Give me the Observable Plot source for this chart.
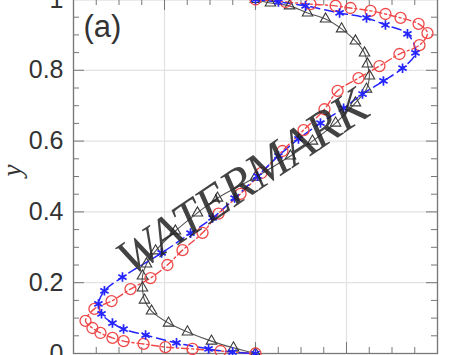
<!DOCTYPE html>
<html><head><meta charset="utf-8">
<script src="https://cdn.jsdelivr.net/npm/d3@7"></script>
<script src="https://cdn.jsdelivr.net/npm/@observablehq/plot@0.6"></script>
<style>
html,body{margin:0;padding:0;background:#fff;overflow:hidden;}
#chart{width:474px;height:355px;overflow:hidden;position:relative;}
#chart svg{position:absolute;left:0;top:-21.5px;}
</style></head><body><div id="chart"></div>
<script>
// Series (x: horizontal value, y: wall-normal coordinate)
const blackX = [0, 0.082, 0.187, 0.286, 0.385, 0.473, 0.549, 0.599, 0.615, 0.626, 0.610, 0.549, 0.440, 0.313, 0.192, 0, -0.209, -0.319, -0.440, -0.549, -0.599, -0.621, -0.621, -0.610, -0.571, -0.478, -0.374, -0.242, -0.121, 0];
const blackY = [1, 0.990, 0.982, 0.962, 0.945, 0.917, 0.883, 0.849, 0.818, 0.784, 0.747, 0.708, 0.651, 0.600, 0.558, 0.498, 0.439, 0.397, 0.346, 0.290, 0.253, 0.219, 0.185, 0.151, 0.120, 0.086, 0.061, 0.035, 0.016, 0];

const blueX = [0, 0.126, 0.275, 0.462, 0.610, 0.714, 0.835, 0.879, 0.808, 0.703, 0.588, 0.484, 0.357, 0.236, 0.126, 0.011, -0.115, -0.236, -0.357, -0.516, -0.731, -0.830, -0.863, -0.846, -0.786, -0.725, -0.604, -0.434, -0.258, -0.126, 0];
const blueY = [1, 0.993, 0.982, 0.962, 0.948, 0.928, 0.903, 0.849, 0.806, 0.770, 0.733, 0.693, 0.651, 0.606, 0.558, 0.501, 0.439, 0.383, 0.340, 0.284, 0.216, 0.177, 0.140, 0.112, 0.086, 0.069, 0.052, 0.030, 0.013, 0.004, 0];

const redX = [0, 0.165, 0.302, 0.440, 0.522, 0.632, 0.714, 0.797, 0.896, 0.945, 0.901, 0.791, 0.681, 0.566, 0.451, 0.379, 0.264, 0.148, 0.033, -0.082, -0.203, -0.291, -0.401, -0.484, -0.577, -0.687, -0.791, -0.885, -0.934, -0.896, -0.852, -0.786, -0.725, -0.615, -0.495, -0.346, -0.192, 0];
const redY = [1, 0.993, 0.987, 0.982, 0.976, 0.968, 0.959, 0.948, 0.931, 0.905, 0.871, 0.846, 0.812, 0.778, 0.742, 0.690, 0.631, 0.572, 0.510, 0.451, 0.395, 0.341, 0.292, 0.250, 0.213, 0.182, 0.148, 0.126, 0.092, 0.072, 0.058, 0.044, 0.035, 0.027, 0.018, 0.013, 0.007, 0];

// Axis ticks and labels
const yTicks = [0, 0.2, 0.4, 0.6, 0.8, 1];
const yTickLabels = ["0", "0.2", "0.4", "0.6", "0.8", "1"];
const yMinorTicks = [0.05, 0.1, 0.15, 0.25, 0.3, 0.35, 0.45, 0.5, 0.55, 0.65, 0.7, 0.75, 0.85, 0.9, 0.95];
const xTicks = [-1, -0.5, 0, 0.5, 1];
const xMinorTicks = [-0.875, -0.75, -0.625, -0.375, -0.25, -0.125, 0.125, 0.25, 0.375, 0.625, 0.75, 0.875];

const panelLabel = "(a)";
const yLabel = "y";
const watermark = "WATERMARK";

const toRows = (xs, ys) => xs.map((x, i) => ({x, y: ys[i]}));
const black = toRows(blackX, blackY);
const blue = toRows(blueX, blueY);
const red = toRows(redX, redY);

const W = 474, mL = 73, mR = 37, mT = 20, mB = 30, fh = 354;
const fw = W - mL - mR;
const axisColor = "#777";

const chart = Plot.plot({
  width: W,
  height: mT + fh + mB,
  marginLeft: mL, marginRight: mR, marginTop: mT, marginBottom: mB,
  style: {fontFamily: "'Liberation Sans', Arial, Helvetica, sans-serif", background: "white"},
  x: {domain: [-1, 1], axis: null},
  y: {domain: [0, 1], axis: null},
  marks: [
    Plot.gridX(xTicks, {stroke: "#e2e2e2", strokeOpacity: 1, strokeWidth: 1.2}),
    Plot.gridY(yTicks, {stroke: "#e2e2e2", strokeOpacity: 1, strokeWidth: 1.2}),
    // inward ticks (bottom/top/left/right)
    Plot.tickX(xTicks, {x: d => d, insetTop: fh - 11, stroke: axisColor}),
    Plot.tickX(xMinorTicks, {x: d => d, insetTop: fh - 6, stroke: axisColor}),
    Plot.tickX(xTicks, {x: d => d, insetBottom: fh - 11, stroke: axisColor}),
    Plot.tickX(xMinorTicks, {x: d => d, insetBottom: fh - 6, stroke: axisColor}),
    Plot.tickY(yTicks, {y: d => d, insetRight: fw - 11, stroke: axisColor}),
    Plot.tickY(yMinorTicks, {y: d => d, insetRight: fw - 6, stroke: axisColor}),
    Plot.tickY(yTicks, {y: d => d, insetLeft: fw - 11, stroke: axisColor}),
    Plot.tickY(yMinorTicks, {y: d => d, insetLeft: fw - 6, stroke: axisColor}),
    Plot.frame({stroke: axisColor, strokeWidth: 1.3}),
    Plot.axisY(yTicks, {
      anchor: "left", tickSize: 0, tickPadding: 10, label: null,
      tickFormat: d => yTickLabels[yTicks.indexOf(d)],
      fontSize: 25, fill: "#333"
    }),
    // series
    Plot.line(black, {x: "x", y: "y", stroke: "#555", strokeWidth: 1.1, curve: "catmull-rom"}),
    Plot.line(red, {x: "x", y: "y", stroke: "#f04848", strokeWidth: 1.4, strokeDasharray: "7,3,2,3", curve: "catmull-rom"}),
    Plot.line(blue, {x: "x", y: "y", stroke: "#2424ff", strokeWidth: 1.5, strokeDasharray: "9,5", curve: "catmull-rom"}),
    Plot.dot(black, {x: "x", y: "y", symbol: "triangle", r: 3.9, stroke: "#3a3a3a", strokeWidth: 1.1, fill: "none"}),
    Plot.dot(red, {x: "x", y: "y", symbol: "circle", r: 5.5, stroke: "#f04848", strokeWidth: 1.3, fill: "none"}),
    Plot.dot(blue, {x: "x", y: "y", symbol: "asterisk", r: 4.5, stroke: "#2424ff", strokeWidth: 1.7}),
    // labels
    Plot.text([panelLabel], {text: d => d, frameAnchor: "top-left", dx: 10, dy: 37.5, lineAnchor: "bottom", textAnchor: "start", fontSize: 31, fill: "#333"}),
    Plot.text([yLabel], {text: d => d, frameAnchor: "left", dx: -61, rotate: -90, fontSize: 27, fontStyle: "italic", fontFamily: "'Liberation Serif', 'Times New Roman', serif", fill: "#333"}),
    Plot.text([watermark], {text: d => d, frameAnchor: "middle", dx: -13, dy: 6, rotate: -34, fontSize: 50, fontStyle: "italic", fontFamily: "'Liberation Serif', 'Times New Roman', serif", fill: "#222", fillOpacity: 0.85})
  ]
});
document.getElementById("chart").appendChild(chart);
</script></body></html>
